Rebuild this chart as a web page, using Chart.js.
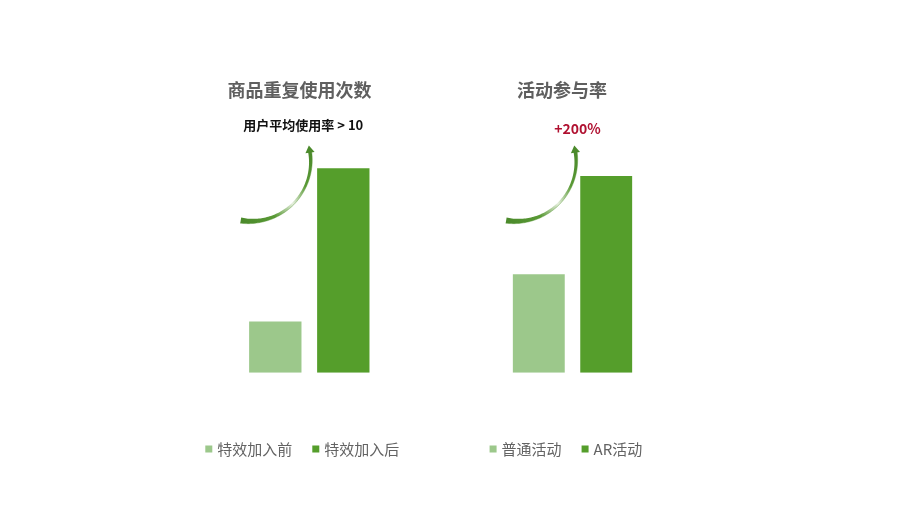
<!DOCTYPE html>
<html>
<head>
<meta charset="utf-8">
<script src="https://cdn.jsdelivr.net/npm/chart.js@4.4.1/dist/chart.umd.min.js"></script>
<style>
  html, body { margin: 0; padding: 0; background: #ffffff; }
  #wrap { position: relative; width: 900px; height: 520px; overflow: hidden; background: #fff; }
  canvas { position: absolute; top: 0; }
  #c1 { left: 0; }
  #c2 { left: 450px; }
</style>
</head>
<body>
<div id="wrap">
  <canvas id="c1" width="450" height="520"></canvas>
  <canvas id="c2" width="450" height="520"></canvas>
</div>
<script>
// ---- data ----
const chartTitles = ['商品重复使用次数', '活动参与率'];
const chartNotes = ['用户平均使用率 > 10', '+200%'];
const usageSeries = ['特效加入前', '特效加入后'];
const usageValues = [2.5, 10];
const activitySeries = ['普通活动', 'AR活动'];
const activityValues = [1, 2];
const category = [''];

const LIGHT = '#9cc88b';
const DARK = '#559e2b';
const ARROW = '#4b8a2b';
const FONT = '"Noto Sans CJK SC", "Noto Sans", sans-serif';

function drawArrow(ctx, ccx, ccy, R) {
  const a0 = 99.5 * Math.PI / 180;
  const a1 = -9 * Math.PI / 180;
  const N = 80;
  const outer = [], inner = [];
  for (let i = 0; i <= N; i++) {
    const t = i / N;
    const th = a0 + (a1 - a0) * t;
    let w = 1.8 + 3.9 * Math.pow(1 - t, 3) + 1.8 * Math.pow(t, 3);
    const ro = R + w / 2, ri = R - w / 2;
    outer.push([ccx + ro * Math.cos(th), ccy + ro * Math.sin(th)]);
    inner.push([ccx + ri * Math.cos(th), ccy + ri * Math.sin(th)]);
  }
  const A = [ccx + R * Math.cos(a0), ccy + R * Math.sin(a0)];
  const B = [ccx + R * Math.cos(a1), ccy + R * Math.sin(a1)];
  const g = ctx.createLinearGradient(A[0], A[1], B[0], B[1]);
  g.addColorStop(0, ARROW);
  g.addColorStop(0.28, '#5a9a36');
  g.addColorStop(0.5, '#e4eedc');
  g.addColorStop(0.72, '#5a9a36');
  g.addColorStop(1, ARROW);
  ctx.beginPath();
  ctx.moveTo(outer[0][0], outer[0][1]);
  for (let i = 1; i < outer.length; i++) ctx.lineTo(outer[i][0], outer[i][1]);
  for (let i = inner.length - 1; i >= 0; i--) ctx.lineTo(inner[i][0], inner[i][1]);
  ctx.closePath();
  ctx.fillStyle = g;
  ctx.fill();
  // outer edge hint
  ctx.beginPath();
  ctx.moveTo(outer[0][0], outer[0][1]);
  for (let i = 1; i < outer.length; i++) ctx.lineTo(outer[i][0], outer[i][1]);
  ctx.strokeStyle = 'rgba(85,150,50,0.55)';
  ctx.lineWidth = 0.8;
  ctx.stroke();
  // arrow head
  const d = [Math.sin(a1), -Math.cos(a1)];
  const n = [Math.cos(a1), Math.sin(a1)];
  const bx = B[0] - 0.8 * d[0], by = B[1] - 0.8 * d[1];
  ctx.beginPath();
  ctx.moveTo(bx + 4.6 * n[0], by + 4.6 * n[1]);
  ctx.lineTo(B[0] + 6.5 * d[0], B[1] + 6.5 * d[1]);
  ctx.lineTo(bx - 4.6 * n[0], by - 4.6 * n[1]);
  ctx.closePath();
  ctx.fillStyle = ARROW;
  ctx.fill();
}

const decoPlugin = {
  id: 'deco',
  afterDatasetsDraw(chart, args, o) {
    const ctx = chart.ctx;
    const a = chart.chartArea;
    const cx = (a.left + a.right) / 2;
    const bar2 = chart.getDatasetMeta(1).data[0];
    const bar2Left = bar2.x - bar2.width / 2;
    ctx.save();
    ctx.textAlign = 'center';
    ctx.textBaseline = 'middle';
    // title
    ctx.font = 'bold 18px ' + FONT;
    ctx.fillStyle = '#5f5f5f';
    ctx.fillText(o.title, cx + o.titleDx, a.top + o.titleDy);
    // note
    ctx.font = 'bold ' + o.noteSize + 'px ' + FONT;
    ctx.fillStyle = o.noteColor;
    ctx.fillText(o.note, bar2.x + o.noteDx, a.top + o.noteDy);
    // arrow
    drawArrow(ctx, bar2Left + o.arrowDx, a.top + o.arrowDy, o.arrowR);
    // legend
    ctx.font = '15px ' + FONT;
    ctx.textAlign = 'left';
    const box = 7, gap = 5, itemGap = 20;
    const items = chart.data.datasets.map(ds => ({
      text: ds.label, color: ds.backgroundColor, w: ctx.measureText(ds.label).width
    }));
    let total = 0;
    items.forEach((it, i) => { total += box + gap + it.w + (i ? itemGap : 0); });
    let x = cx + o.legendDx - total / 2;
    const y = a.bottom + o.legendDy;
    items.forEach((it, i) => {
      if (i) x += itemGap;
      ctx.fillStyle = it.color;
      ctx.fillRect(x, y - box / 2, box, box);
      x += box + gap;
      ctx.fillStyle = '#636363';
      ctx.fillText(it.text, x, y + 0.5);
      x += it.w;
    });
    ctx.restore();
  }
};

function makeChart(id, series, values, yMax, padding, deco) {
  return new Chart(document.getElementById(id), {
    type: 'bar',
    data: {
      labels: category,
      datasets: [
        { label: series[0], data: [values[0]], backgroundColor: LIGHT },
        { label: series[1], data: [values[1]], backgroundColor: DARK }
      ]
    },
    options: {
      responsive: false,
      animation: false,
      devicePixelRatio: 1,
      layout: { padding: padding },
      datasets: { bar: { barPercentage: 0.77, categoryPercentage: 1.0 } },
      scales: {
        x: { display: false },
        y: { display: false, min: 0, max: yMax }
      },
      plugins: {
        legend: { display: false },
        title: { display: false },
        tooltip: { enabled: false },
        deco: deco
      }
    },
    plugins: [decoPlugin]
  });
}

makeChart('c1', usageSeries, usageValues, 12.5,
  { left: 241.3, right: 72.7, top: 117, bottom: 147.3 },
  { title: chartTitles[0], titleDx: -9.8, titleDy: -27,
    note: chartNotes[0], noteColor: '#111111', noteSize: 13, noteDx: -40, noteDy: 8,
    arrowDx: -66.5, arrowDy: 44.2, arrowR: 60,
    legendDx: -7, legendDy: 76.3 });

makeChart('c2', activitySeries, activityValues, 2.6,
  { left: 55.1, right: 260.1, top: 117, bottom: 147.3 },
  { title: chartTitles[1], titleDx: -10.5, titleDy: -27,
    note: chartNotes[1], noteColor: '#b01030', noteSize: 14, noteDx: -28.7, noteDy: 11.3,
    arrowDx: -64.2, arrowDy: 44.2, arrowR: 60,
    legendDx: -6.6, legendDy: 76.3 });
</script>
</body>
</html>
